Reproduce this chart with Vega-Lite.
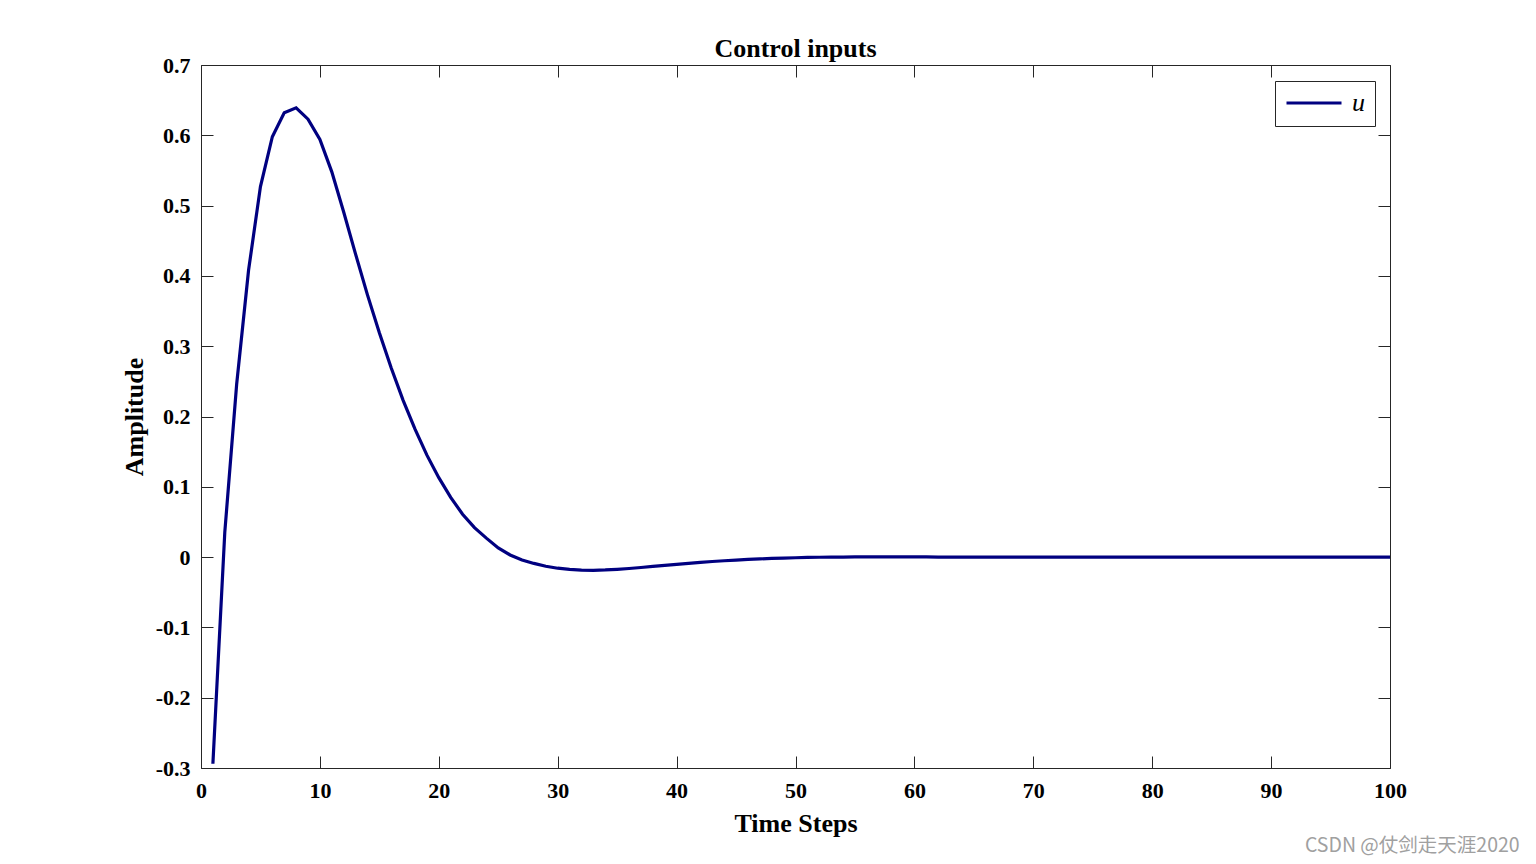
{
  "$schema": "https://vega.github.io/schema/vega-lite/v6.json",
  "width": 1189,
  "height": 703,
  "autosize": {"type": "none"},
  "padding": {"left": 201, "top": 65, "right": 146, "bottom": 96},
  "background": "white",
  "title": {"text": "Control inputs", "font": "Liberation Serif", "fontSize": 26, "fontWeight": "bold", "color": "#000000", "offset": -8, "anchor": "middle"},
  "config": {
    "view": {"stroke": "#262626", "strokeWidth": 1},
    "axis": {"domain": false, "grid": false, "tickColor": "#262626", "tickSize": -12, "tickWidth": 1, "labelFlush": false, "labelOverlap": false,
      "labelFont": "Liberation Serif", "labelFontSize": 22, "labelFontWeight": "bold", "labelColor": "#000000",
      "titleFont": "Liberation Serif", "titleFontSize": 26, "titleFontWeight": "bold", "titleColor": "#000000"}
  },
  "data": {"values": [
    {"t": 1, "u": -0.294}, {"t": 2, "u": 0.035}, {"t": 3, "u": 0.246}, {"t": 4, "u": 0.408}, {"t": 5, "u": 0.527},
    {"t": 6, "u": 0.598}, {"t": 7, "u": 0.632}, {"t": 8, "u": 0.639}, {"t": 9, "u": 0.623}, {"t": 10, "u": 0.594},
    {"t": 11, "u": 0.548}, {"t": 12, "u": 0.491}, {"t": 13, "u": 0.431}, {"t": 14, "u": 0.373}, {"t": 15, "u": 0.319},
    {"t": 16, "u": 0.269}, {"t": 17, "u": 0.223}, {"t": 18, "u": 0.182}, {"t": 19, "u": 0.145}, {"t": 20, "u": 0.113},
    {"t": 21, "u": 0.085}, {"t": 22, "u": 0.061}, {"t": 23, "u": 0.042}, {"t": 24, "u": 0.027}, {"t": 25, "u": 0.013},
    {"t": 26, "u": 0.003}, {"t": 27, "u": -0.004}, {"t": 28, "u": -0.009}, {"t": 29, "u": -0.013}, {"t": 30, "u": -0.0158},
    {"t": 31, "u": -0.0175}, {"t": 32, "u": -0.0185}, {"t": 33, "u": -0.0188}, {"t": 34, "u": -0.0183}, {"t": 35, "u": -0.0174},
    {"t": 36, "u": -0.0162}, {"t": 37, "u": -0.0148}, {"t": 38, "u": -0.0133}, {"t": 39, "u": -0.0118}, {"t": 40, "u": -0.0103},
    {"t": 41, "u": -0.0088}, {"t": 42, "u": -0.0075}, {"t": 43, "u": -0.0063}, {"t": 44, "u": -0.0052}, {"t": 45, "u": -0.0042},
    {"t": 46, "u": -0.0033}, {"t": 47, "u": -0.0026}, {"t": 48, "u": -0.0019}, {"t": 49, "u": -0.0014}, {"t": 50, "u": -0.0009},
    {"t": 51, "u": -0.0005}, {"t": 52, "u": -0.0002}, {"t": 53, "u": 0.0}, {"t": 54, "u": 0.0001}, {"t": 55, "u": 0.0002},
    {"t": 56, "u": 0.0002}, {"t": 57, "u": 0.0002}, {"t": 58, "u": 0.0002}, {"t": 59, "u": 0.0002}, {"t": 60, "u": 0.0002},
    {"t": 61, "u": 0.0002}, {"t": 62, "u": 0.0001}, {"t": 63, "u": 0.0001}, {"t": 64, "u": 0.0}, {"t": 65, "u": 0.0},
    {"t": 66, "u": 0.0}, {"t": 67, "u": 0.0}, {"t": 68, "u": 0.0}, {"t": 69, "u": 0.0}, {"t": 70, "u": 0.0},
    {"t": 71, "u": 0.0}, {"t": 72, "u": 0.0}, {"t": 73, "u": 0.0}, {"t": 74, "u": 0.0}, {"t": 75, "u": 0.0},
    {"t": 76, "u": 0.0}, {"t": 77, "u": 0.0}, {"t": 78, "u": 0.0}, {"t": 79, "u": 0.0}, {"t": 80, "u": 0.0},
    {"t": 81, "u": 0.0}, {"t": 82, "u": 0.0}, {"t": 83, "u": 0.0}, {"t": 84, "u": 0.0}, {"t": 85, "u": 0.0},
    {"t": 86, "u": 0.0}, {"t": 87, "u": 0.0}, {"t": 88, "u": 0.0}, {"t": 89, "u": 0.0}, {"t": 90, "u": 0.0},
    {"t": 91, "u": 0.0}, {"t": 92, "u": 0.0}, {"t": 93, "u": 0.0}, {"t": 94, "u": 0.0}, {"t": 95, "u": 0.0},
    {"t": 96, "u": 0.0}, {"t": 97, "u": 0.0}, {"t": 98, "u": 0.0}, {"t": 99, "u": 0.0}, {"t": 100, "u": 0.0}
  ]},
  "layer": [
    {
      "mark": {"type": "line", "strokeWidth": 3.2, "clip": true},
      "encoding": {
        "x": {"field": "t", "type": "quantitative", "scale": {"domain": [0, 100], "nice": false},
          "axis": {"orient": "bottom", "values": [0, 10, 20, 30, 40, 50, 60, 70, 80, 90, 100], "title": "Time Steps", "labelPadding": 24, "titlePadding": 9}},
        "y": {"field": "u", "type": "quantitative", "scale": {"domain": [-0.3, 0.7], "nice": false, "zero": false},
          "axis": {"orient": "left", "values": [-0.3, -0.2, -0.1, 0, 0.1, 0.2, 0.3, 0.4, 0.5, 0.6, 0.7], "title": "Amplitude", "labelPadding": 23, "titlePadding": 8,
            "labelExpr": "datum.value == 0 ? '0' : toString(round(datum.value * 10) / 10)"}},
        "color": {"datum": "u", "type": "nominal", "scale": {"range": ["#000080"]},
          "legend": {"title": null, "orient": "none", "legendX": 1074, "legendY": 16, "symbolType": "stroke", "symbolStrokeWidth": 3,
            "symbolSize": 3025, "clipHeight": 24, "padding": 10, "labelOffset": 9, "strokeColor": "#262626", "fillColor": "white",
            "labelFont": "Liberation Serif", "labelFontStyle": "italic", "labelFontSize": 26, "labelColor": "#000000"}}
      }
    },
    {
      "mark": {"type": "line", "strokeOpacity": 0},
      "encoding": {
        "x": {"field": "t", "type": "quantitative", "scale": {"domain": [0, 100], "nice": false},
          "axis": {"orient": "top", "values": [0, 10, 20, 30, 40, 50, 60, 70, 80, 90, 100], "labels": false, "title": null}},
        "y": {"field": "u", "type": "quantitative", "scale": {"domain": [-0.3, 0.7], "nice": false, "zero": false},
          "axis": {"orient": "right", "values": [-0.3, -0.2, -0.1, 0, 0.1, 0.2, 0.3, 0.4, 0.5, 0.6, 0.7], "labels": false, "title": null}}
      }
    },
    {
      "data": {"values": [{"x": 110.9, "y": -0.42, "label": "CSDN @仗剑走天涯2020"}]},
      "mark": {"type": "text", "align": "right", "baseline": "alphabetic", "font": "Noto Sans CJK SC", "fontSize": 19.5, "color": "#a0a0a0", "clip": false},
      "encoding": {
        "x": {"field": "x", "type": "quantitative", "scale": {"domain": [0, 100], "nice": false}, "axis": null},
        "y": {"field": "y", "type": "quantitative", "scale": {"domain": [-0.3, 0.7], "nice": false, "zero": false}, "axis": null},
        "text": {"field": "label"}
      }
    }
  ],
  "resolve": {"axis": {"x": "independent", "y": "independent"}}
}
